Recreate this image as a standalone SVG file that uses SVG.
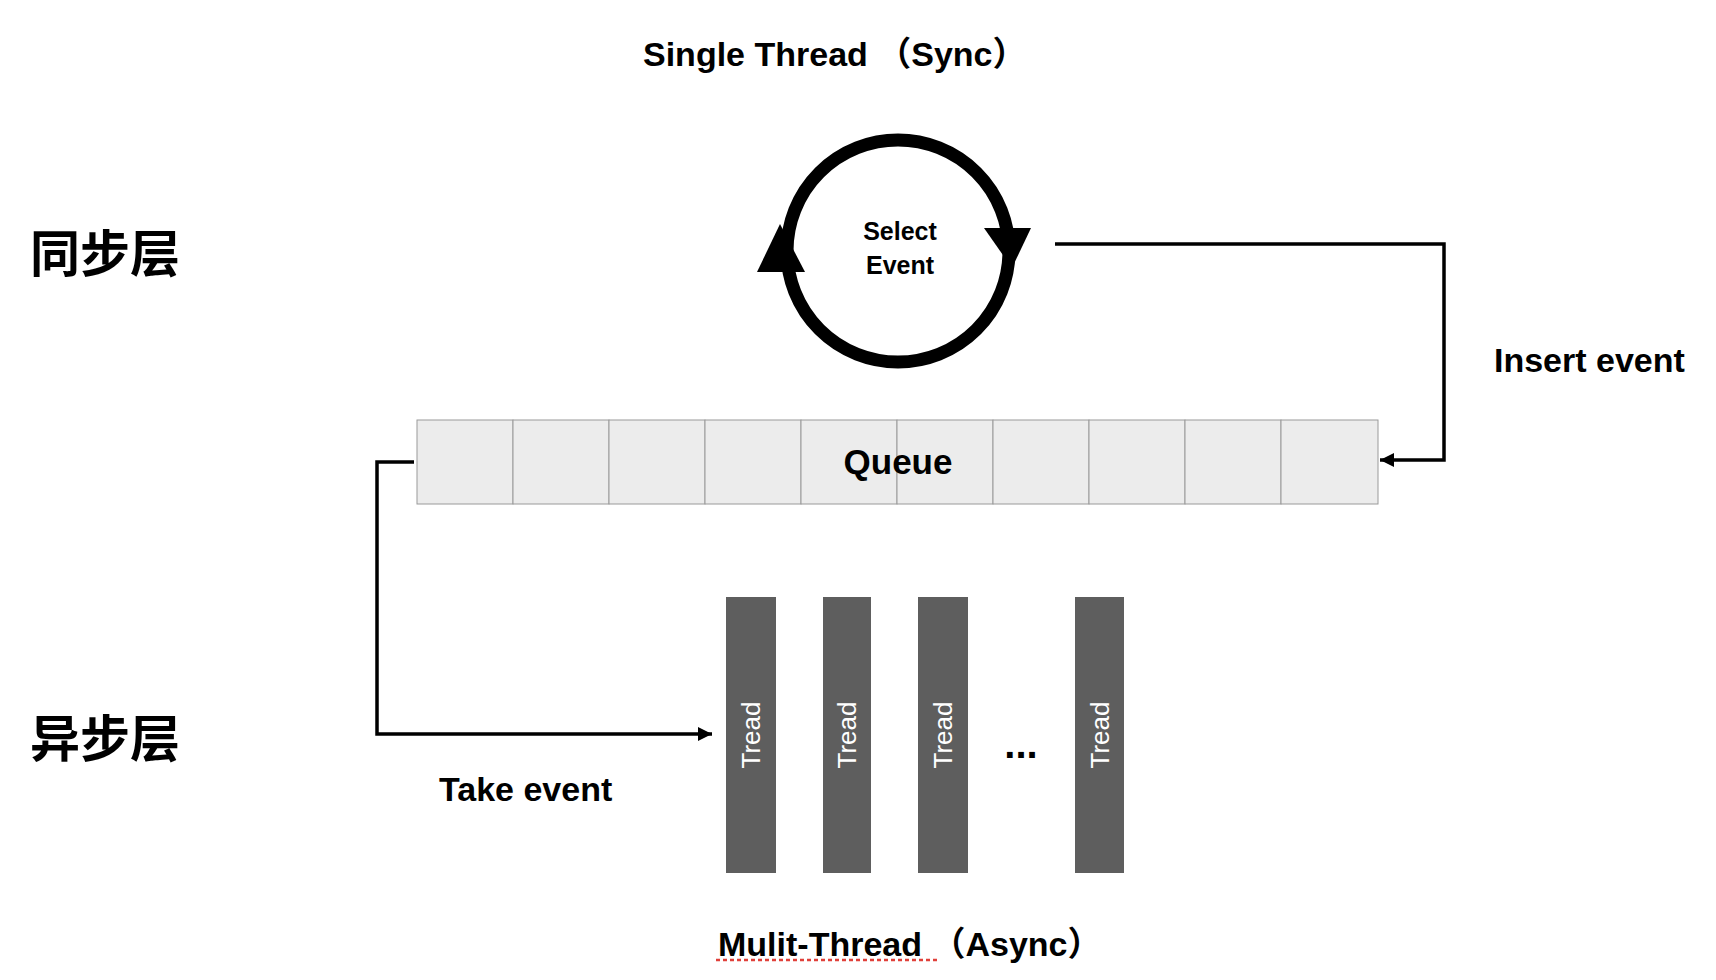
<svg xmlns="http://www.w3.org/2000/svg" width="1716" height="980" viewBox="0 0 1716 980">
<style>
text{font-family:"Liberation Sans","Noto Sans CJK SC",Arial,sans-serif;font-weight:bold;fill:#000}
.lbl{font-size:34px}
.cjk{font-family:"Noto Sans CJK SC",sans-serif;font-size:50px}
.cell{fill:#ececec;stroke:#9a9a9a;stroke-width:1}
.thr{fill:#5e5e5e}
.tt{fill:#fff;font-size:26px;font-weight:normal}
.conn{fill:none;stroke:#000;stroke-width:3.5}
</style>
<defs>
<marker id="ah" viewBox="0 0 10 10" refX="10" refY="5" markerWidth="6" markerHeight="6" orient="auto" markerUnits="userSpaceOnUse">
<path d="M0,0 L10,5 L0,10 z" fill="#000"/>
</marker>
<marker id="ah2" viewBox="0 0 10 10" refX="10" refY="5" markerWidth="16" markerHeight="14" orient="auto" markerUnits="userSpaceOnUse">
<path d="M0,0 L10,5 L0,10 z" fill="#000"/>
</marker>
</defs>
<text class="lbl" x="643" y="66">Single Thread （Sync）</text>
<text class="cjk" x="30" y="272">同步层</text>
<text class="cjk" x="30" y="757">异步层</text>
<g id="loop">
<circle cx="898" cy="251" r="111" fill="none" stroke="#000" stroke-width="13"/>
<path d="M780,224 L757,272 L805,272 z" fill="#000"/>
<path d="M984,228 L1031,228 L1012,268 z" fill="#000"/>
<text x="900" y="240" text-anchor="middle" style="font-size:25px">Select</text>
<text x="900" y="274" text-anchor="middle" style="font-size:25px">Event</text>
</g>
<g id="queue">
<rect class="cell" x="417" y="420" width="96" height="84"/>
<rect class="cell" x="513" y="420" width="96" height="84"/>
<rect class="cell" x="609" y="420" width="96" height="84"/>
<rect class="cell" x="705" y="420" width="96" height="84"/>
<rect class="cell" x="801" y="420" width="96" height="84"/>
<rect class="cell" x="897" y="420" width="96" height="84"/>
<rect class="cell" x="993" y="420" width="96" height="84"/>
<rect class="cell" x="1089" y="420" width="96" height="84"/>
<rect class="cell" x="1185" y="420" width="96" height="84"/>
<rect class="cell" x="1281" y="420" width="97" height="84"/>
<text x="898" y="474" text-anchor="middle" style="font-size:35px">Queue</text>
</g>
<g id="threads">
<rect class="thr" x="726" y="597" width="50" height="276"/>
<rect class="thr" x="823" y="597" width="48" height="276"/>
<rect class="thr" x="918" y="597" width="50" height="276"/>
<rect class="thr" x="1075" y="597" width="49" height="276"/>
<text class="tt" transform="translate(760,735) rotate(-90)" text-anchor="middle">Tread</text>
<text class="tt" transform="translate(856,735) rotate(-90)" text-anchor="middle">Tread</text>
<text class="tt" transform="translate(952,735) rotate(-90)" text-anchor="middle">Tread</text>
<text class="tt" transform="translate(1109,735) rotate(-90)" text-anchor="middle">Tread</text>
<text x="1021" y="758" text-anchor="middle" style="font-size:40px">...</text>
</g>
<g id="connectors">
<path class="conn" d="M1055,244 H1444 V460 H1380" marker-end="url(#ah2)"/>
<path class="conn" d="M414,462 H377 V734 H712" marker-end="url(#ah2)"/>
</g>
<text class="lbl" x="1494" y="372">Insert event</text>
<text class="lbl" x="439" y="801">Take event</text>
<text class="lbl" x="718" y="956">Mulit-Thread （Async）</text>
<line x1="716" y1="960" x2="940" y2="960" stroke="#e0403a" stroke-width="2.5" stroke-dasharray="4,3"/>
</svg>
